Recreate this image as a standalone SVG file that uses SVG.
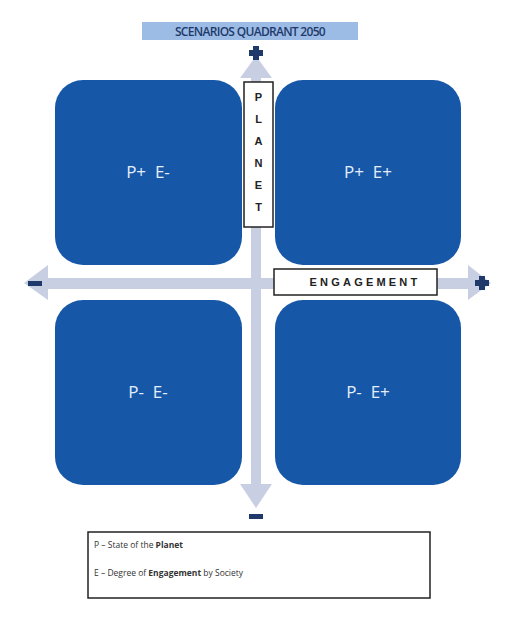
<svg xmlns="http://www.w3.org/2000/svg" width="513" height="640" viewBox="0 0 513 640">
<style>
.q{fill:#1657A8}
.qt{font-family:"Open Sans","Liberation Sans",sans-serif;font-size:17px;fill:#E4EEFA;text-anchor:middle}
.lb{fill:#fff;stroke:#222;stroke-width:1.5}
.lt{font-family:"Liberation Sans",sans-serif;font-weight:bold;font-size:11px;fill:#222;text-anchor:middle}
.ar{fill:#C9CFE3}
.sg{fill:#1F3A6A}
.lg{font-family:"Open Sans","Liberation Sans",sans-serif;font-size:8.5px;fill:#333}
</style>
<rect width="513" height="640" fill="#fff"/>
<g id="title">
<rect x="142" y="22" width="216" height="18" fill="#9CBCE6"/>
<text x="250" y="36" font-family="Open Sans,Liberation Sans,sans-serif" font-size="12" font-weight="600" fill="#1F3A6A" text-anchor="middle" letter-spacing="-0.7">SCENARIOS QUADRANT 2050</text>
</g>
<g id="connectors">
<polygon class="ar" points="256,56 272,78 261,78 261,484 272,484 256,508 240,484 251,484 251,78 240,78"/>
<polygon class="ar" points="24,283 48,265 48,278 468,278 468,265 491,283 468,300 468,289 48,289 48,300"/>
<rect class="sg" x="253" y="46" width="6" height="14"/>
<rect class="sg" x="249" y="50" width="14" height="6"/>
<rect class="sg" x="249" y="514" width="14" height="5"/>
<rect class="sg" x="28" y="281" width="14" height="5"/>
<rect class="sg" x="479" y="276" width="6" height="14"/>
<rect class="sg" x="475" y="280" width="14" height="6"/>
</g>
<g id="q-pp-em">
<rect class="q" x="55" y="80" width="187" height="185" rx="28"/>
<text class="qt" x="148" y="178" xml:space="preserve">P+  E-</text>
</g>
<g id="q-pp-ep">
<rect class="q" x="275" y="80" width="186" height="185" rx="28"/>
<text class="qt" x="368" y="178" xml:space="preserve">P+  E+</text>
</g>
<g id="q-pm-em">
<rect class="q" x="55" y="300" width="187" height="185" rx="28"/>
<text class="qt" x="148" y="398" xml:space="preserve">P-  E-</text>
</g>
<g id="q-pm-ep">
<rect class="q" x="275" y="300" width="186" height="185" rx="28"/>
<text class="qt" x="368" y="398" xml:space="preserve">P-  E+</text>
</g>
<g id="planet">
<rect class="lb" x="244" y="82" width="29" height="145"/>
<text class="lt" x="258.5" y="101">P</text>
<text class="lt" x="258.5" y="123">L</text>
<text class="lt" x="258.5" y="145">A</text>
<text class="lt" x="258.5" y="167">N</text>
<text class="lt" x="258.5" y="189">E</text>
<text class="lt" x="258.5" y="211">T</text>
</g>
<g id="engagement">
<rect class="lb" x="274" y="269" width="163" height="26"/>
<text class="lt" x="365" y="286" letter-spacing="3.2">ENGAGEMENT</text>
</g>
<g id="legend">
<rect x="88" y="532" width="342" height="66" fill="#fff" stroke="#222" stroke-width="1.5"/>
<text class="lg" x="94" y="548">P – State of the <tspan font-weight="bold">Planet</tspan></text>
<text class="lg" x="94" y="576">E – Degree of <tspan font-weight="bold">Engagement</tspan> by Society</text>
</g>
</svg>
